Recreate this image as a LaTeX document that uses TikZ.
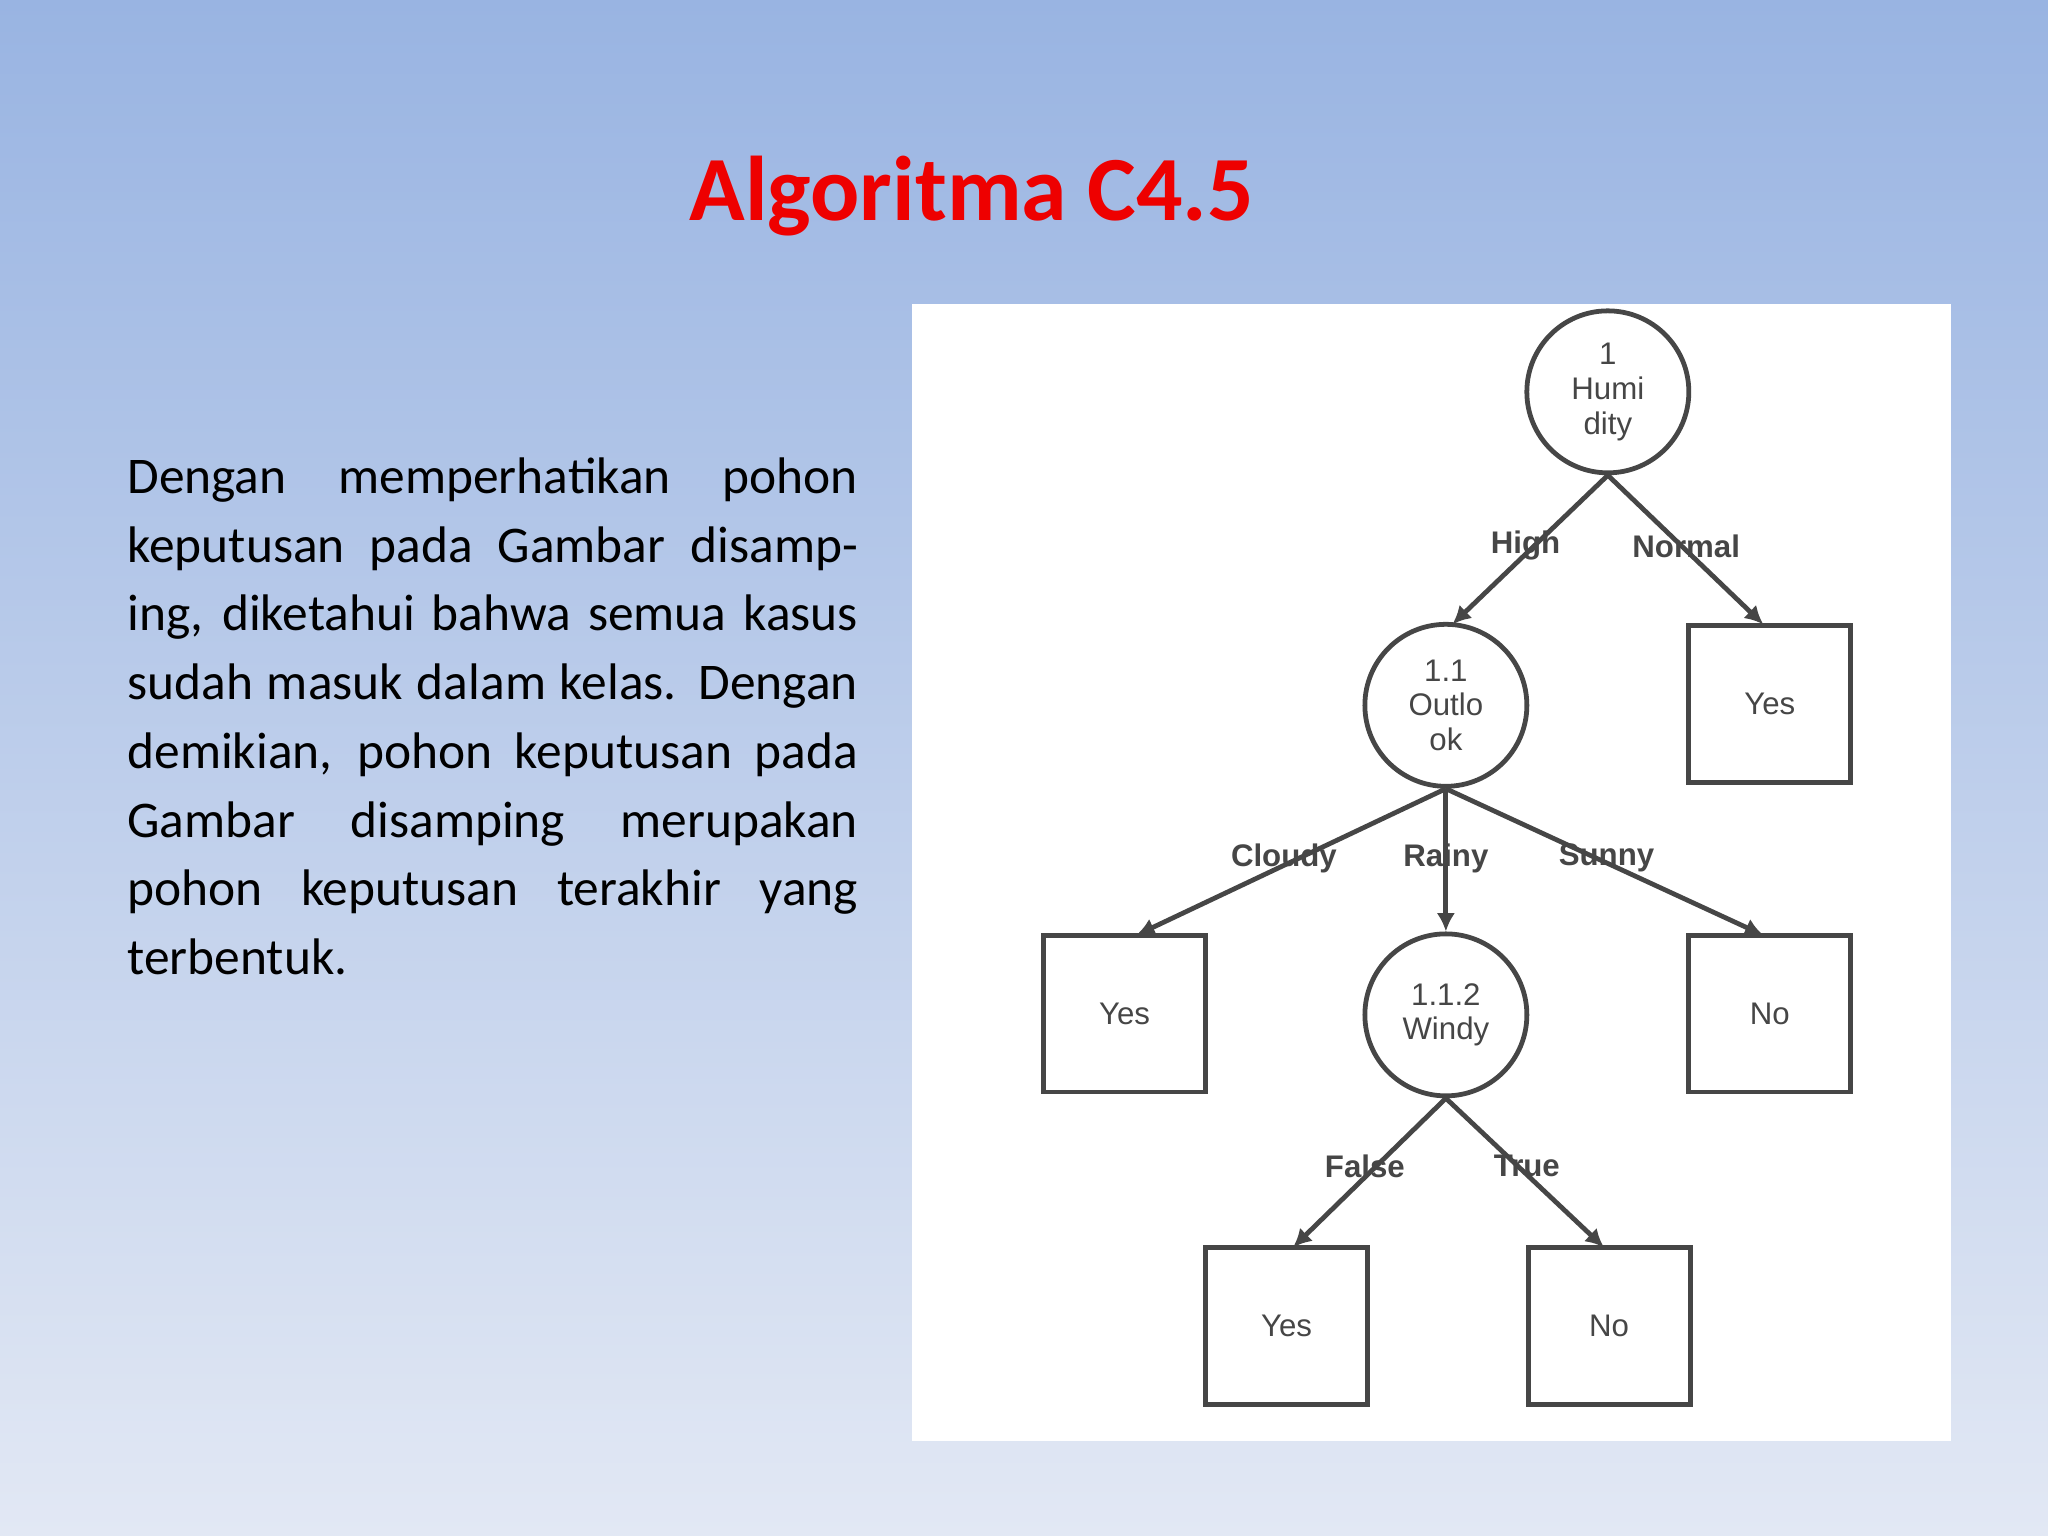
\documentclass[tikz,border=0pt]{standalone}
\usepackage{fontspec}
\setmainfont{Carlito}
\newfontfamily\treefont{Liberation Sans}
\usetikzlibrary{arrows.meta}
\definecolor{bgtop}{RGB}{153,180,226}
\definecolor{bgbot}{RGB}{226,232,244}
\definecolor{titlered}{RGB}{238,0,0}
\definecolor{treegray}{RGB}{70,70,70}
\begin{document}
\begin{tikzpicture}[x=0.0125cm,y=-0.0125cm,
  circ/.style={draw=treegray,line width=1.3pt,circle,minimum size=1.55cm,inner sep=0pt,align=center,font=\treefont\fontsize{8.5}{9.5}\selectfont,text=treegray},
  leaf/.style={draw=treegray,line width=1.3pt,minimum width=1.55cm,minimum height=1.5cm,inner sep=0pt,font=\treefont\fontsize{8.5}{10}\selectfont,text=treegray},
  edge/.style={draw=treegray,line width=1.3pt,-{Latex[length=5pt,width=5pt]}},
  lab/.style={font=\treefont\bfseries\fontsize{8.5}{10}\selectfont,text=treegray}]
\shade[top color=bgtop,bottom color=bgbot] (0,0) rectangle (1568,1176);
\useasboundingbox (0,0) rectangle (1568,1176);
\node[font=\bfseries\fontsize{25}{30}\selectfont,text=titlered] (title) at (744,150) {Algoritma C4.5};
\node[anchor=north west,text width=6.99cm,align=justify,inner sep=0pt,font=\fontsize{14}{18.7}\selectfont] (body) at (97,350)
{\hyphenpenalty=10000\exhyphenpenalty=10000 Dengan memperhatikan pohon keputusan pada Gambar disamping, diketahui bahwa semua kasus sudah masuk dalam kelas. Dengan demikian, pohon keputusan pada Gambar disamping merupakan pohon keputusan terakhir yang terbentuk.};
\fill[white] (698,233) rectangle (1494,1103);
\node[circ] (n1) at (1231,300) {1\\Humi\\dity};
\node[circ] (n11) at (1107,540) {1.1\\Outlo\\ok};
\node[leaf] (y1) at (1355,539) {Yes};
\node[leaf] (y2) at (861,776) {Yes};
\node[circ] (n112) at (1107,777) {1.1.2\\Windy};
\node[leaf] (no1) at (1355,776) {No};
\node[leaf] (y3) at (985,1015) {Yes};
\node[leaf] (no2) at (1232,1015) {No};
\coordinate (a1) at (1112,478);
\coordinate (a2) at (1350,478);
\coordinate (a3) at (870,716);
\coordinate (a4) at (1350,716);
\coordinate (a5) at (990,955);
\coordinate (a6) at (1228,955);
\draw[edge] (n1.south) -- (a1);
\draw[edge] (n1.south) -- (a2);
\draw[edge] (n11.south) -- (a3);
\draw[edge] (n11.south) -- (n112.north);
\draw[edge] (n11.south) -- (a4);
\draw[edge] (n112.south) -- (a5);
\draw[edge] (n112.south) -- (a6);
\node[lab] (l1) at (1168,418) {High};
\node[lab] (l2) at (1291,418) {Normal};
\node[lab] (l3) at (983,657) {Cloudy};
\node[lab] (l4) at (1107,657) {Rainy};
\node[lab] (l5) at (1230,657) {Sunny};
\node[lab] (l6) at (1045,893) {False};
\node[lab] (l7) at (1169,893) {True};
\end{tikzpicture}
\end{document}
